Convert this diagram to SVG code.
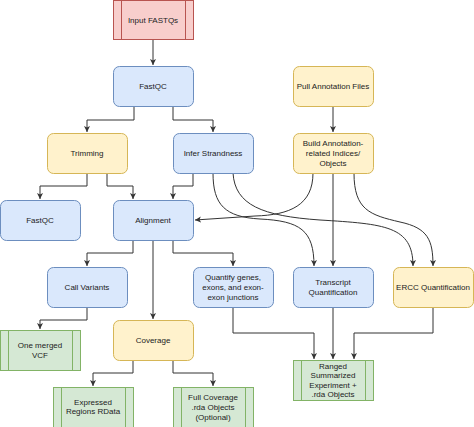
<svg xmlns="http://www.w3.org/2000/svg" width="474" height="427" viewBox="0 0 474 427">
<style>
text{font-family:"Liberation Sans",Arial,sans-serif;font-size:8px;fill:#222;text-anchor:middle}
.b{fill:#dae8fc;stroke:#6c8ebf;stroke-width:1}
.y{fill:#fff2cc;stroke:#d6b656;stroke-width:1}
.r{fill:#f8cecc;stroke:#b85450;stroke-width:1}
.g{fill:#d5e8d4;stroke:#82b366;stroke-width:1}
.rl{stroke:#b85450;stroke-width:1}
.gl{stroke:#82b366;stroke-width:1}
.c{fill:none;stroke:#333;stroke-width:1;marker-end:url(#ah)}
</style>
<defs>
<marker id="ah" markerUnits="userSpaceOnUse" markerWidth="7" markerHeight="7" refX="6" refY="3.5" orient="auto">
<path d="M0,0.5 L6,3.5 L0,6.5 L1.5,3.5 Z" fill="#333"/>
</marker>
</defs>
<rect width="474" height="427" fill="#fff"/>
<g id="connectors">
<path class="c" d="M153,40 V65"/>
<path class="c" d="M134,106 V120 H87 V132"/>
<path class="c" d="M173,106 V120 H213 V132"/>
<path class="c" d="M333,106 V132"/>
<path class="c" d="M87,173 V186 H40 V199"/>
<path class="c" d="M107,173 V186 H133 V199"/>
<path class="c" d="M193,173 V186 H173 V199"/>
<path class="c" d="M213,173 C213,205 225,217 260,219 C300,221 314,230 314,266"/>
<path class="c" d="M233,173 C235,205 262,216 320,220 C385,224 413,226 413,266"/>
<path class="c" d="M313,173 C313,205 290,215 255,216 L195,220"/>
<path class="c" d="M333,173 V266"/>
<path class="c" d="M354,173 C354,210 370,215 400,222 C428,228 433,240 433,266"/>
<path class="c" d="M133,240 V253 H87 V266"/>
<path class="c" d="M153,240 V319"/>
<path class="c" d="M173,240 V253 H233 V266"/>
<path class="c" d="M87,307 V320 H40 V329"/>
<path class="c" d="M133,360 V373 H93 V386"/>
<path class="c" d="M173,360 V373 H213 V386"/>
<path class="c" d="M233,307 V333 H314 V359"/>
<path class="c" d="M333,307 V359"/>
<path class="c" d="M433,307 V333 H354 V359"/>
</g>
<g id="input-fastqs">
<rect class="r" x="113.5" y="0.5" width="80" height="39"/>
<line class="rl" x1="121.5" y1="0.5" x2="121.5" y2="39.5"/>
<line class="rl" x1="185.5" y1="0.5" x2="185.5" y2="39.5"/>
<text x="153" y="23">Input FASTQs</text>
</g>
<g id="fastqc">
<rect class="b" x="113.5" y="66.5" width="80" height="40" rx="6"/>
<text x="153" y="89">FastQC</text>
</g>
<g id="pull-annotation">
<rect class="y" x="293.5" y="66.5" width="80" height="40" rx="6"/>
<text x="333" y="89">Pull Annotation Files</text>
</g>
<g id="trimming">
<rect class="y" x="47.5" y="133.5" width="80" height="40" rx="6"/>
<text x="87" y="156">Trimming</text>
</g>
<g id="infer-strandness">
<rect class="b" x="173.5" y="133.5" width="80" height="40" rx="6"/>
<text x="213" y="156">Infer Strandness</text>
</g>
<g id="build-annotation">
<rect class="y" x="293.5" y="133.5" width="80" height="40" rx="6"/>
<text x="333" y="146">Build Annotation-</text>
<text x="333" y="156">related Indices/</text>
<text x="333" y="166">Objects</text>
</g>
<g id="fastqc2">
<rect class="b" x="0.5" y="200.5" width="80" height="40" rx="6"/>
<text x="40" y="223">FastQC</text>
</g>
<g id="alignment">
<rect class="b" x="113.5" y="200.5" width="80" height="40" rx="6"/>
<text x="153" y="223">Alignment</text>
</g>
<g id="call-variants">
<rect class="b" x="47.5" y="267.5" width="80" height="40" rx="6"/>
<text x="87" y="290">Call Variants</text>
</g>
<g id="quantify-genes">
<rect class="b" x="193.5" y="267.5" width="80" height="40" rx="6"/>
<text x="233" y="280">Quantify genes,</text>
<text x="233" y="290">exons, and exon-</text>
<text x="233" y="300">exon junctions</text>
</g>
<g id="transcript-quant">
<rect class="b" x="293.5" y="267.5" width="80" height="40" rx="6"/>
<text x="333" y="285">Transcript</text>
<text x="333" y="295">Quantification</text>
</g>
<g id="ercc-quant">
<rect class="y" x="393.5" y="267.5" width="80" height="40" rx="6"/>
<text x="433" y="290">ERCC Quantification</text>
</g>
<g id="merged-vcf">
<rect class="g" x="0.5" y="330.5" width="80" height="40"/>
<line class="gl" x1="8.5" y1="330.5" x2="8.5" y2="370.5"/>
<line class="gl" x1="72.5" y1="330.5" x2="72.5" y2="370.5"/>
<text x="40" y="348">One merged</text>
<text x="40" y="358">VCF</text>
</g>
<g id="coverage">
<rect class="y" x="113.5" y="320.5" width="80" height="40" rx="6"/>
<text x="153" y="343">Coverage</text>
</g>
<g id="ranged-se">
<rect class="g" x="293.5" y="360.5" width="80" height="40"/>
<line class="gl" x1="301.5" y1="360.5" x2="301.5" y2="400.5"/>
<line class="gl" x1="365.5" y1="360.5" x2="365.5" y2="400.5"/>
<text x="333" y="369">Ranged</text>
<text x="333" y="378.3">Summarized</text>
<text x="333" y="387.6">Experiment +</text>
<text x="333" y="397">.rda Objects</text>
</g>
<g id="expressed-regions">
<rect class="g" x="53.5" y="387.5" width="80" height="40"/>
<line class="gl" x1="61.5" y1="387.5" x2="61.5" y2="427.5"/>
<line class="gl" x1="125.5" y1="387.5" x2="125.5" y2="427.5"/>
<text x="93" y="405">Expressed</text>
<text x="93" y="414">Regions RData</text>
</g>
<g id="full-coverage">
<rect class="g" x="173.5" y="387.5" width="80" height="40"/>
<line class="gl" x1="181.5" y1="387.5" x2="181.5" y2="427.5"/>
<line class="gl" x1="245.5" y1="387.5" x2="245.5" y2="427.5"/>
<text x="213" y="400">Full Coverage</text>
<text x="213" y="410">.rda Objects</text>
<text x="213" y="420">(Optional)</text>
</g>
</svg>
